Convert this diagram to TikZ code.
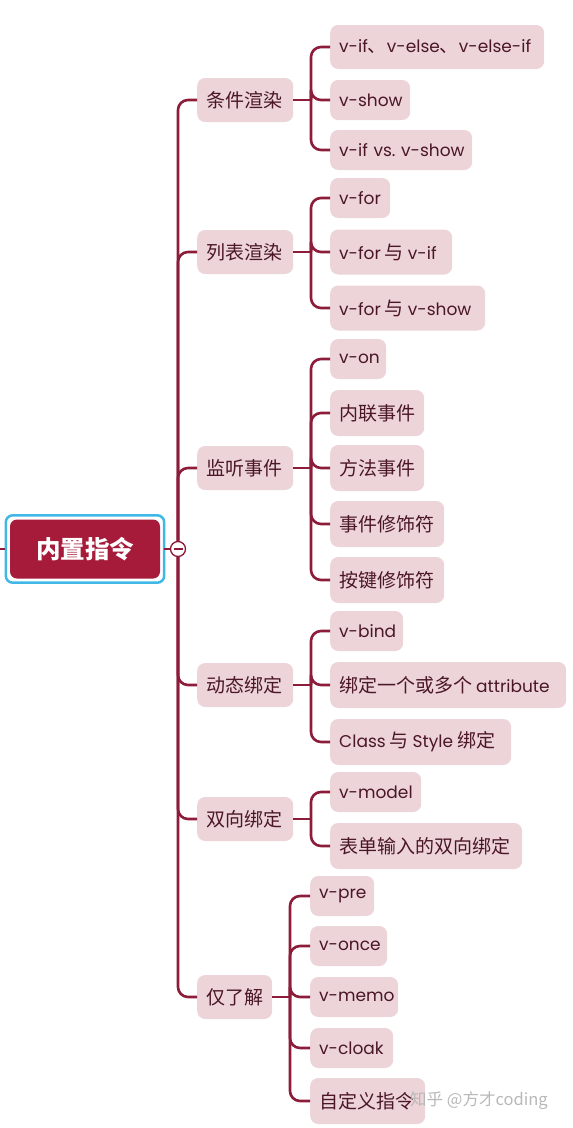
\documentclass[tikz,border=0pt]{standalone}
\usepackage{fontspec}
\setmainfont{Poppins}
\newfontfamily\cjk{Noto Sans CJK SC}
\usetikzlibrary{calc}
\frenchspacing
\definecolor{ln}{RGB}{140,28,58}
\definecolor{pk}{RGB}{236,212,217}
\definecolor{tx}{RGB}{75,22,38}
\definecolor{rootfill}{RGB}{166,27,58}
\definecolor{rootbd}{RGB}{64,184,230}
\newcommand\zh[1]{{\cjk\fontsize{19}{20}\selectfont #1}}
\newcommand\gapsp{\hspace{4pt}}
\tikzset{
  conn/.style={draw=ln, line width=2.6pt},
  curv/.style={conn, rounded corners=10pt},
  leaf/.style={fill=pk, text=tx, rounded corners=8pt, anchor=west, align=left,
    inner xsep=9pt, inner ysep=0pt, font=\fontsize{17}{20}\selectfont},
  rootnode/.style={fill=rootfill, text=white, rounded corners=7pt, minimum width=150pt,
    minimum height=59pt, font=\cjk\bfseries\fontsize{24.5}{26}\selectfont},
}
\newcommand\mleaf[6]{\node[leaf, minimum height=#5pt, text width=#4pt] (#1) at (#2,#3) {\mbox{#6}};}
\begin{document}
\begin{tikzpicture}[x=1pt,y=-1pt]
\useasboundingbox (0,0) rectangle (573,1128);
% root
\node[rootnode] (root) at (85,549) {内置指令};
\draw[rootbd, line width=2.5pt, rounded corners=7pt] ($(root.south west)+(-4,4)$) rectangle ($(root.north east)+(4,-4)$);
\coordinate (lstub) at (0,549);
\draw[conn] (lstub) -- ($(root.west)+(-5,0)$);
\coordinate (T) at (178,549);
% level 1
\mleaf{p1}{197}{100}{78}{44}{\zh{条件渲染}}
\mleaf{p2}{197}{252}{78}{44}{\zh{列表渲染}}
\mleaf{p3}{197}{468}{78}{44}{\zh{监听事件}}
\mleaf{p4}{197}{685}{78}{44}{\zh{动态绑定}}
\mleaf{p5}{197}{819}{78}{44}{\zh{双向绑定}}
\mleaf{p6}{197}{997}{57}{44}{\zh{仅了解}}
\foreach \p in {p1,p2,p3,p4,p5,p6} \draw[curv] (T) |- (\p.west);
\draw[conn] ($(root.east)+(4,0)$) -- (T);
\node[circle, draw=ln, fill=white, line width=1.3pt, minimum size=15pt, inner sep=0pt] (col) at (T) {};
\draw[ln, line width=1.3pt] ($(col.center)+(-4.5,0)$) -- ($(col.center)+(4.5,0)$);
% group 1
\mleaf{a1}{330}{47}{196}{44}{v-if\zh{、}v-else\zh{、}v-else-if}
\mleaf{a2}{330}{100}{62}{40}{v-show}
\mleaf{a3}{330}{150}{124}{40}{v-if vs. v-show}
\coordinate (s1) at (311,100);
\draw[conn] (p1.east) -- (s1);
\foreach \c in {a1,a2,a3} \draw[curv] (s1) |- (\c.west);
% group 2
\mleaf{b1}{330}{198}{42}{40}{v-for}
\mleaf{b2}{330}{252}{104}{45}{v-for\gapsp\zh{与}\gapsp v-if}
\mleaf{b3}{330}{308}{137}{45}{v-for\gapsp\zh{与}\gapsp v-show}
\coordinate (s2) at (311,252);
\draw[conn] (p2.east) -- (s2);
\foreach \c in {b1,b2,b3} \draw[curv] (s2) |- (\c.west);
% group 3
\mleaf{c1}{330}{359}{38}{40}{v-on}
\mleaf{c2}{330}{413}{76}{46}{\zh{内联事件}}
\mleaf{c3}{330}{468}{76}{46}{\zh{方法事件}}
\mleaf{c4}{330}{524}{96}{46}{\zh{事件修饰符}}
\mleaf{c5}{330}{580}{96}{46}{\zh{按键修饰符}}
\coordinate (s3) at (311,468);
\draw[conn] (p3.east) -- (s3);
\foreach \c in {c1,c2,c3,c4,c5} \draw[curv] (s3) |- (\c.west);
% group 4
\mleaf{d1}{330}{631}{55}{40}{v-bind}
\mleaf{d2}{330}{685}{218}{46}{\zh{绑定一个或多个}\gapsp attribute}
\mleaf{d3}{330}{742}{163}{46}{Class\gapsp\zh{与}\gapsp Style\gapsp\zh{绑定}}
\coordinate (s4) at (311,685);
\draw[conn] (p4.east) -- (s4);
\foreach \c in {d1,d2,d3} \draw[curv] (s4) |- (\c.west);
% group 5
\mleaf{e1}{330}{792}{73}{40}{v-model}
\mleaf{e2}{330}{846}{174}{46}{\zh{表单输入的双向绑定}}
\coordinate (s5) at (311,819);
\draw[conn] (p5.east) -- (s5);
\foreach \c in {e1,e2} \draw[curv] (s5) |- (\c.west);
% group 6
\mleaf{f1}{310}{896}{46}{40}{v-pre}
\mleaf{f2}{310}{946}{59}{40}{v-once}
\mleaf{f3}{310}{997}{70}{40}{v-memo}
\mleaf{f4}{310}{1048}{65}{40}{v-cloak}
\mleaf{f5}{310}{1101}{97}{46}{\zh{自定义指令}}
\coordinate (s6) at (290,997);
\draw[conn] (p6.east) -- (s6);
\foreach \c in {f1,f2,f3,f4,f5} \draw[curv] (s6) |- (\c.west);
% watermark
\node[anchor=west, text=black!28, font=\cjk\fontsize{16.5}{18}\selectfont, inner sep=0pt] (wm) at (410,1101) {知乎 @方才coding};
\end{tikzpicture}
\end{document}
